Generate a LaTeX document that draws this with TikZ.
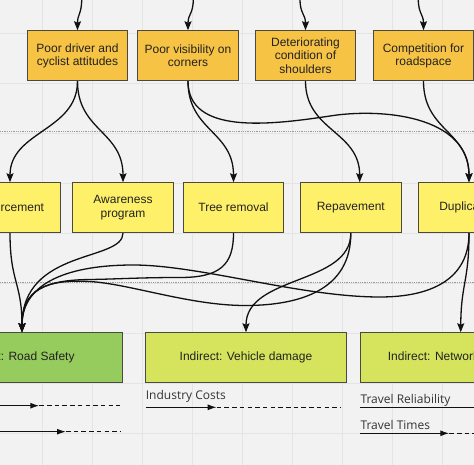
\documentclass[tikz,border=0pt]{standalone}
\usepackage{fontspec}
\setmainfont{Liberation Sans}
\newfontfamily\legendfont{Open Sans}
\usetikzlibrary{arrows.meta}
\definecolor{bg}{HTML}{F2F2F2}
\definecolor{gridc}{HTML}{E4E4E4}
\definecolor{sepc}{HTML}{9A9A9A}
\definecolor{causefill}{HTML}{F6C344}
\definecolor{actfill}{HTML}{FFF06A}
\definecolor{safefill}{HTML}{96CB5E}
\definecolor{indfill}{HTML}{D5E45C}
\definecolor{boxline}{HTML}{4A4A42}
\definecolor{boxtext}{HTML}{222222}
\definecolor{legtext}{HTML}{333333}
\definecolor{linec}{HTML}{111111}
\begin{document}
\begin{tikzpicture}[x=1pt,y=-1pt,
  box/.style={draw=boxline,line width=0.9pt,inner sep=0pt,align=center,
    font=\fontsize{12}{13.5}\selectfont,text=boxtext,minimum height=50pt},
  cause/.style={box,fill=causefill,minimum width=100.4pt},
  act/.style={box,fill=actfill,minimum width=100.4pt},
  effect/.style={box,minimum width=200.6pt},
  link/.style={draw=linec,line width=1.3pt,-{Stealth[length=9pt,width=7pt,inset=1.5pt]}},
  legarrow/.style={draw=linec,line width=1.3pt,-{Latex[length=9pt,width=6pt]}},
  legsolid/.style={draw=linec,line width=1.3pt},
  legdash/.style={draw=linec,line width=0.9pt,dash pattern=on 4.5pt off 3.2pt},
  legtxt/.style={font=\legendfont\fontsize{12}{14}\selectfont,text=legtext,inner sep=0pt,anchor=base west},
  sep/.style={draw=sepc,line width=0.8pt,densely dotted}
]
\useasboundingbox (0,0) rectangle (474,465);
\clip (0,0) rectangle (474,465);
\fill[bg] (0,0) rectangle (474,465);
\foreach \gx in {-7.3,42.7,...,450} {\draw[gridc,line width=0.5pt] (\gx,0) -- (\gx,465);}
\foreach \gy in {33.3,83.3,...,450} {\draw[gridc,line width=0.5pt] (0,\gy) -- (474,\gy);}
\draw[sep] (0,131.7) -- (474,131.7);
\draw[sep] (0,282.7) -- (474,282.7);

% top row
\node[cause] (t1) at (77.5,55.7) {Poor driver and\\cyclist attitudes};
\node[cause] (t2) at (188,55.7) {Poor visibility on\\corners};
\node[cause] (t3) at (305.5,55.7) {Deteriorating\\condition of\\shoulders};
\node[cause] (t4) at (423.5,55.7) {Competition for\\roadspace};

% middle row
\node[act] (m1) at (10,207.7) {Enforcement};
\node[act] (m2) at (123,207.7) {Awareness\\program};
\node[act] (m3) at (233.5,207.7) {Tree removal};
\node[act] (m4) at (350.8,207.7) {Repavement};
\node[act] (m5) at (469,207.7) {Duplication};

% bottom row
\node[effect,fill=safefill] (b1) at (22,357.7) {Direct: Road Safety};
\node[effect,fill=indfill] (b2) at (246,357.7) {Indirect: Vehicle damage};
\node[effect,fill=indfill] (b3) at (460.7,357.7) {Indirect: Network Efficiency};

% incoming arrows at top
\coordinate (s1) at (81.7,-1);
\coordinate (s2) at (193.3,-1);
\coordinate (s3) at (300,-1);
\coordinate (s4) at (418.3,-1);
\draw[link] (s1) .. controls (81.7,14) and (77.5,14) .. (t1.north);
\draw[link] (s2) .. controls (193.3,14) and (188,14) .. (t2.north);
\draw[link] (s3) .. controls (300,14) and (305.5,14) .. (t3.north);
\draw[link] (s4) .. controls (418.3,14) and (423.5,14) .. (t4.north);

% top -> middle
\draw[link] (t1.south) .. controls (77.5,131) and (10,131) .. (m1.north);
\draw[link] (t1.south) .. controls (77.5,131) and (123,131) .. (m2.north);
\draw[link] (t2.south) .. controls (188,131) and (233.5,131) .. (m3.north);
\draw[link] (t2.south) .. controls (188,135) and (270,125) .. (330,116)
   .. controls (380,108) and (469,115) .. (m5.north);
\draw[link] (t3.south) .. controls (305.5,131) and (359.7,131) .. ([xshift=8.9pt]m4.north);
\draw[link] (t4.south) .. controls (423.5,131) and (469,131) .. (m5.north);

% middle -> bottom
\draw[link] (m1.south) .. controls (10,282) and (22,283) .. (b1.north);
\draw[link] (m2.south) .. controls (123,262) and (22,248) .. (b1.north);
\draw[link] (m3.south) .. controls (233.5,265) and (220,277.5) .. (180,277.5)
   .. controls (140,277.5) and (120,279) .. (90,279.5)
   .. controls (45,280) and (22,290) .. (b1.north);
\draw[link] (m4.south) .. controls (351,290) and (300,305.5) .. (245,305.5)
   .. controls (190,305.5) and (130,284) .. (90,281.5)
   .. controls (45,279) and (22,290) .. (b1.north);
\draw[link] (m5.south) .. controls (469,280) and (430,297) .. (380,297)
   .. controls (300,297) and (200,265) .. (133,265)
   .. controls (70,265) and (22,282) .. (b1.north);
\draw[link] (m4.south) .. controls (351,285) and (246,275) .. (b2.north);
\draw[link] (m5.south) .. controls (469,282) and (461,283) .. (b3.north);

% legends
\coordinate (la0) at (-78,405.7);
\coordinate (la1) at (39.3,405.7);
\coordinate (la2) at (120,405.7);
\draw[legarrow] (la0) -- (la1);
\draw[legdash] (la1) -- (la2);
\coordinate (lb0) at (-78,431.7);
\coordinate (lb1) at (66,431.7);
\coordinate (lb2) at (120,431.7);
\draw[legarrow] (lb0) -- (lb1);
\draw[legdash] (lb1) -- (lb2);

\node[legtxt] (ic) at (145.7,399.3) {Industry Costs};
\coordinate (lc0) at (146,407.3);
\coordinate (lc1) at (216.7,407.3);
\coordinate (lc2) at (340,407.3);
\draw[legarrow] (lc0) -- (lc1);
\draw[legdash] (lc1) -- (lc2);

\node[legtxt] (tr) at (360.3,403.5) {Travel Reliability};
\coordinate (ld0) at (360.3,407.7);
\coordinate (ld1) at (480,407.7);
\draw[legsolid] (ld0) -- (ld1);

\node[legtxt] (tt) at (360.3,429.3) {Travel Times};
\coordinate (le0) at (360.3,433.3);
\coordinate (le1) at (449.3,433.3);
\coordinate (le2) at (560,433.3);
\draw[legarrow] (le0) -- (le1);
\draw[legdash] (le1) -- (le2);
\end{tikzpicture}
\end{document}
